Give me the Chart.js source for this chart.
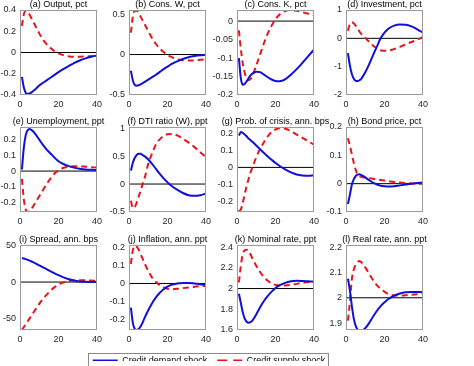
<!DOCTYPE html>
<html><head><meta charset="utf-8">
<script src="https://cdn.jsdelivr.net/npm/chart.js@4.4.1/dist/chart.umd.min.js"></script>
<style>
html,body{margin:0;padding:0;background:#fff;width:474px;height:366px;overflow:hidden;position:relative;}
canvas{position:absolute;}
</style></head><body>
<script>
// ---- data ----
const horizon = [1,2,3,4,5,6,7,8,10,12,14,16,18,20,22,25,28,31,34,37,40];
const xTicks = [0,20,40];
const seriesNames = ['Credit demand shock','Credit supply shock'];
const titles = ['(a) Output, pct','(b) Cons. W, pct','(c) Cons. K, pct','(d) Investment, pct',
  '(e) Unemployment, ppt','(f) DTI ratio (W), ppt','(g) Prob. of crisis, ann. bps','(h) Bond price, pct',
  '(i) Spread, ann. bps','(j) Inflation, ann. ppt','(k) Nominal rate, ppt','(l) Real rate, ann. ppt'];

const outputDemand = [-0.23,-0.33,-0.38,-0.39,-0.385,-0.375,-0.36,-0.345,-0.31,-0.285,-0.26,-0.235,-0.21,-0.185,-0.162,-0.13,-0.1,-0.075,-0.055,-0.04,-0.028];
const outputSupply = [0.25,0.36,0.39,0.38,0.355,0.32,0.285,0.25,0.18,0.12,0.075,0.04,0.012,-0.008,-0.022,-0.035,-0.04,-0.04,-0.038,-0.035,-0.032];
const consWDemand = [-0.2,-0.32,-0.375,-0.385,-0.38,-0.37,-0.355,-0.34,-0.31,-0.28,-0.25,-0.215,-0.18,-0.15,-0.12,-0.085,-0.055,-0.033,-0.018,-0.008,-0.003];
const consWSupply = [0.27,0.47,0.54,0.54,0.51,0.47,0.425,0.38,0.29,0.2,0.13,0.075,0.03,-0.005,-0.03,-0.058,-0.07,-0.075,-0.072,-0.066,-0.06];
const consKDemand = [-0.1,-0.155,-0.172,-0.17,-0.163,-0.155,-0.147,-0.142,-0.137,-0.138,-0.145,-0.152,-0.158,-0.162,-0.163,-0.158,-0.145,-0.13,-0.113,-0.095,-0.077];
const consKSupply = [-0.025,-0.075,-0.115,-0.14,-0.155,-0.16,-0.157,-0.148,-0.12,-0.09,-0.06,-0.033,-0.012,0.005,0.017,0.027,0.03,0.028,0.024,0.02,0.016];
const investDemand = [-0.52,-0.95,-1.25,-1.42,-1.5,-1.51,-1.48,-1.42,-1.2,-0.92,-0.6,-0.3,0.0,0.2,0.34,0.45,0.49,0.48,0.42,0.32,0.2];
const investSupply = [0.27,0.5,0.57,0.53,0.45,0.35,0.24,0.15,0.02,-0.12,-0.25,-0.35,-0.42,-0.44,-0.43,-0.38,-0.3,-0.21,-0.13,-0.05,0.05];
const unempDemand = [0.01,0.15,0.23,0.26,0.267,0.26,0.25,0.235,0.2,0.165,0.135,0.11,0.085,0.062,0.048,0.033,0.022,0.015,0.01,0.008,0.007];
const unempSupply = [-0.05,-0.18,-0.245,-0.26,-0.255,-0.24,-0.22,-0.2,-0.16,-0.12,-0.08,-0.045,-0.015,0.005,0.018,0.027,0.03,0.03,0.028,0.025,0.022];
const dtiDemand = [0.24,0.38,0.47,0.52,0.54,0.54,0.52,0.5,0.44,0.36,0.27,0.18,0.1,0.03,-0.03,-0.1,-0.16,-0.2,-0.21,-0.2,-0.17];
const dtiSupply = [-0.3,-0.43,-0.41,-0.33,-0.23,-0.12,-0.01,0.09,0.36,0.55,0.71,0.8,0.86,0.89,0.895,0.87,0.81,0.74,0.66,0.57,0.48];
const crisisDemand = [0.19,0.21,0.205,0.195,0.185,0.172,0.162,0.152,0.13,0.108,0.086,0.065,0.045,0.026,0.01,-0.012,-0.03,-0.042,-0.048,-0.05,-0.046];
const crisisSupply = [-0.26,-0.25,-0.21,-0.16,-0.11,-0.07,-0.03,0.0,0.06,0.11,0.15,0.185,0.21,0.225,0.232,0.23,0.215,0.195,0.175,0.155,0.135];
const bondDemand = [-0.072,-0.04,-0.005,0.015,0.027,0.032,0.033,0.03,0.022,0.012,0.004,-0.003,-0.007,-0.009,-0.01,-0.009,-0.006,-0.003,0.0,0.002,0.004];
const bondSupply = [0.16,0.135,0.105,0.075,0.05,0.033,0.027,0.024,0.021,0.019,0.017,0.015,0.013,0.011,0.009,0.006,0.004,0.002,0.001,0.0,0.0];
const spreadDemand = [33,32.5,31.5,30.5,29.5,28.3,27,25.8,23,20.3,17.5,14.7,12,9.5,7.2,4.3,2.2,0.9,0.3,0.1,0];
const spreadSupply = [-66,-62,-58,-54,-50,-46,-42,-38,-30,-23,-17,-11.5,-7,-3.5,-1,1.2,2.2,2.5,2.3,2,1.7];
const inflDemand = [-0.135,-0.22,-0.255,-0.26,-0.255,-0.24,-0.22,-0.195,-0.15,-0.11,-0.078,-0.052,-0.032,-0.018,-0.008,0.0,0.003,0.003,0.0,-0.004,-0.007];
const inflSupply = [0.11,0.185,0.21,0.205,0.19,0.165,0.14,0.115,0.07,0.033,0.008,-0.01,-0.022,-0.03,-0.032,-0.03,-0.026,-0.022,-0.018,-0.015,-0.013];
const nomDemand = [1.95,1.86,1.77,1.71,1.68,1.67,1.675,1.69,1.75,1.82,1.88,1.93,1.97,2.005,2.03,2.055,2.07,2.075,2.073,2.07,2.065];
const nomSupply = [2.06,2.22,2.33,2.37,2.375,2.36,2.33,2.29,2.22,2.16,2.11,2.075,2.05,2.035,2.03,2.03,2.035,2.045,2.055,2.063,2.07];
const realDemand = [2.075,2.03,1.97,1.92,1.89,1.875,1.87,1.87,1.88,1.9,1.925,1.948,1.967,1.982,1.995,2.008,2.017,2.022,2.023,2.023,2.022];
const realSupply = [1.91,1.98,2.07,2.11,2.13,2.14,2.145,2.14,2.12,2.095,2.07,2.05,2.035,2.024,2.015,2.01,2.009,2.01,2.012,2.014,2.016];

const ticksOutput = [-0.4,-0.2,0,0.2,0.4];
const ticksConsW = [-0.5,0,0.5];
const ticksConsK = [-0.2,-0.15,-0.1,-0.05,0];
const ticksInvest = [-2,-1,0,1];
const ticksUnemp = [-0.2,-0.1,0,0.1,0.2];
const ticksDti = [-0.5,0,0.5,1];
const ticksCrisis = [-0.2,-0.1,0,0.1,0.2];
const ticksBond = [-0.1,0,0.1,0.2];
const ticksSpread = [-50,0,50];
const ticksInfl = [-0.2,-0.1,0,0.1,0.2];
const ticksNom = [1.6,1.8,2,2.2,2.4];
const ticksReal = [1.9,2,2.1,2.2];

const yMin = [-0.4,-0.5,-0.2,-2,-0.26,-0.5,-0.265,-0.1,-66,-0.26,1.6,1.873];
const yMax = [0.4,0.55,0.03,1,0.28,1.02,0.24,0.2,51,0.215,2.42,2.208];
const baseLevel = [0,0,0,0,0,0,0,0,0,0,2,2];

const demandSeries = [outputDemand,consWDemand,consKDemand,investDemand,unempDemand,dtiDemand,crisisDemand,bondDemand,spreadDemand,inflDemand,nomDemand,realDemand];
const supplySeries = [outputSupply,consWSupply,consKSupply,investSupply,unempSupply,dtiSupply,crisisSupply,bondSupply,spreadSupply,inflSupply,nomSupply,realSupply];
const tickSets = [ticksOutput,ticksConsW,ticksConsK,ticksInvest,ticksUnemp,ticksDti,ticksCrisis,ticksBond,ticksSpread,ticksInfl,ticksNom,ticksReal];

// ---- style / layout ----
const BLUE = '#1010d8', RED = '#e8141c';
const FONT = "'Liberation Sans', Arial, Helvetica, sans-serif";
const TICK_FONT = {family: FONT, size: 9};
const TITLE_FONT = {family: FONT, size: 9, weight: 'normal', lineHeight: 1};
const PL = [20, 128.5, 237, 345.5], PT = [10, 127, 245];
const PW = 77, PH = 85, SIDE = 30, XH = 16, TH = 10;

const boxPlugin = {
  id: 'box',
  afterDraw(chart) {
    const a = chart.chartArea, ctx = chart.ctx;
    ctx.save();
    ctx.strokeStyle = '#9a9a9a';
    ctx.lineWidth = 1;
    ctx.strokeRect(Math.round(a.left) + 0.5, Math.round(a.top) + 0.5, Math.round(a.right - a.left) - 1, Math.round(a.bottom - a.top) - 1);
    ctx.restore();
  }
};

titles.forEach((title, i) => {
  const col = i % 4, row = Math.floor(i / 4);
  const c = document.createElement('canvas');
  const w = SIDE + PW + SIDE, h = TH + PH + XH;
  c.width = w; c.height = h;
  c.style.width = w + 'px'; c.style.height = h + 'px';
  c.style.left = (PL[col] - SIDE) + 'px';
  c.style.top = (PT[row] - TH) + 'px';
  document.body.appendChild(c);
  const pts = arr => horizon.map((t, k) => ({x: t, y: arr[k]}));
  new Chart(c, {
    type: 'line',
    data: {datasets: [
      {label: seriesNames[0], data: pts(demandSeries[i]), borderColor: BLUE, borderWidth: 2, pointRadius: 0, cubicInterpolationMode: 'monotone', fill: false},
      {label: seriesNames[1], data: pts(supplySeries[i]), borderColor: RED, borderWidth: 2, borderDash: [6, 4], pointRadius: 0, cubicInterpolationMode: 'monotone', fill: false},
      {label: 'base', data: [{x: 0, y: baseLevel[i]}, {x: 40, y: baseLevel[i]}], borderColor: '#000', borderWidth: 1, pointRadius: 0, fill: false}
    ]},
    options: {
      responsive: false, animation: false, events: [],
      layout: {padding: 0},
      plugins: {
        legend: {display: false}, tooltip: {enabled: false},
        title: {display: true, text: title, font: TITLE_FONT, color: '#000', padding: {top: 0, bottom: 1}}
      },
      scales: {
        x: {type: 'linear', min: 0, max: 40,
            grid: {display: false, drawTicks: false}, border: {display: false},
            afterBuildTicks: s => { s.ticks = xTicks.map(v => ({value: v})); },
            ticks: {font: TICK_FONT, color: '#262626', padding: 4, maxRotation: 0, autoSkip: false, callback: v => String(v)},
            afterFit: s => { s.height = XH; }},
        y: {type: 'linear', position: 'left', min: yMin[i], max: yMax[i],
            grid: {display: false, drawTicks: false}, border: {display: false},
            afterBuildTicks: s => { s.ticks = tickSets[i].map(v => ({value: v})); },
            ticks: {font: TICK_FONT, color: '#262626', padding: 4, autoSkip: false, callback: v => String(v)},
            afterFit: s => { s.width = SIDE; }},
        yRight: {type: 'linear', position: 'right', display: true,
            grid: {display: false, drawTicks: false}, border: {display: false},
            ticks: {display: false},
            afterFit: s => { s.width = SIDE; }}
      }
    },
    plugins: [boxPlugin]
  });
});

// ---- legend ----
const lc = document.createElement('canvas');
lc.width = 400; lc.height = 30;
lc.style.width = '400px'; lc.style.height = '30px';
lc.style.left = '9px'; lc.style.top = '346px';
document.body.appendChild(lc);
const legendBorder = {
  id: 'legendBorder',
  afterDraw(chart) {
    const hb = chart.legend.legendHitBoxes;
    if (!hb || !hb.length) return;
    const ctx = chart.ctx;
    const x0 = Math.round(hb[0].left) - 4.5;
    const last = hb[hb.length - 1];
    const x1 = Math.round(last.left + last.width) + 3.5;
    const y0 = Math.round(hb[0].top) - 2.5;
    ctx.save();
    ctx.strokeStyle = '#8a8a8a'; ctx.lineWidth = 1;
    ctx.strokeRect(x0, y0, x1 - x0, 40);
    ctx.restore();
  }
};
new Chart(lc, {
  type: 'line',
  data: {datasets: [
    {label: seriesNames[0], data: [], borderColor: BLUE, borderWidth: 2},
    {label: seriesNames[1], data: [], borderColor: RED, borderWidth: 2, borderDash: [10, 6]}
  ]},
  options: {
    responsive: false, animation: false, events: [],
    scales: {x: {display: false}, y: {display: false}},
    plugins: {
      tooltip: {enabled: false},
      legend: {display: true, position: 'top',
        labels: {font: {family: FONT, size: 9}, color: '#000', padding: 10, usePointStyle: true, pointStyleWidth: 25,
          generateLabels: chart => chart.data.datasets.map((d, k) => ({
            text: d.label, strokeStyle: d.borderColor, fillStyle: d.borderColor, lineWidth: d.borderWidth,
            lineDash: d.borderDash || [], pointStyle: 'line', hidden: false, datasetIndex: k
          }))}}
    }
  },
  plugins: [legendBorder]
});
</script>
</body></html>
